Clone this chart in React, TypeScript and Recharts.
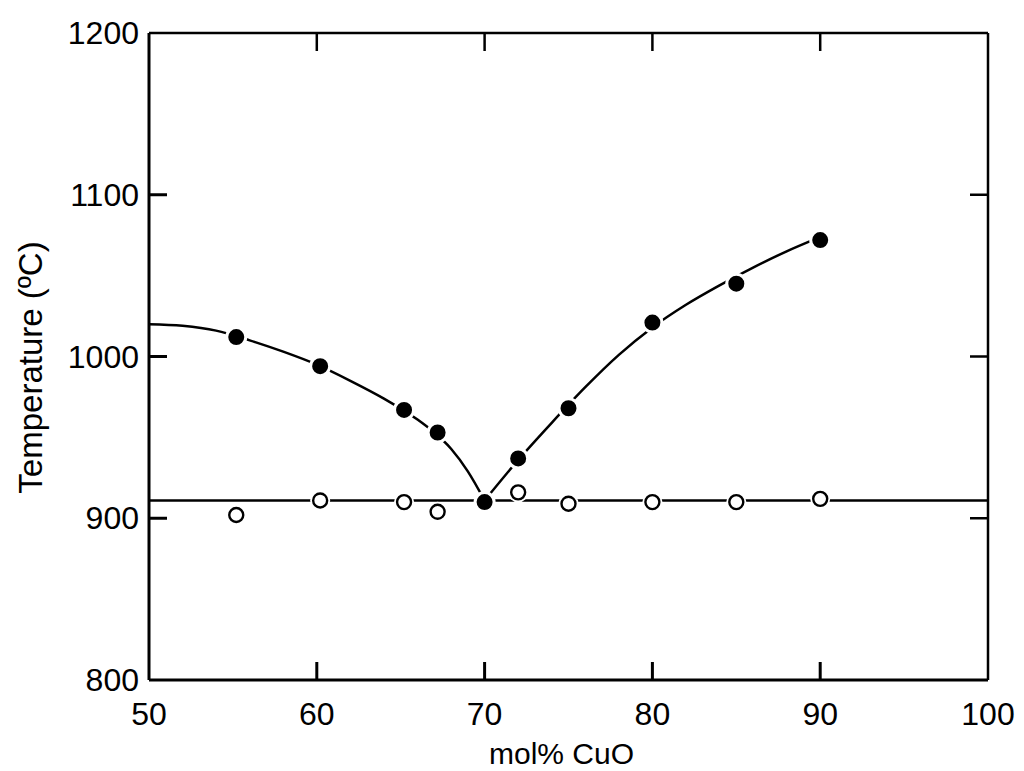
import { ComposedChart, Line, Scatter, XAxis, YAxis } from 'recharts';

const FONT = '"Liberation Sans", Arial, Helvetica, sans-serif';

const xTicks = [50, 60, 70, 80, 90, 100];
const yTicks = [800, 900, 1000, 1100, 1200];

// liquidus measurements (filled circles)
const liquidusPoints = [
  { x: 55.2, y: 1012 },
  { x: 60.2, y: 994 },
  { x: 65.2, y: 967 },
  { x: 67.2, y: 953 },
  { x: 70.0, y: 910 },
  { x: 72.0, y: 937 },
  { x: 75.0, y: 968 },
  { x: 80.0, y: 1021 },
  { x: 85.0, y: 1045 },
  { x: 90.0, y: 1072 },
];

// eutectic measurements (open circles)
const eutecticPoints = [
  { x: 55.2, y: 902 },
  { x: 60.2, y: 911 },
  { x: 65.2, y: 910 },
  { x: 67.2, y: 904 },
  { x: 70.0, y: 910 },
  { x: 72.0, y: 916 },
  { x: 75.0, y: 909 },
  { x: 80.0, y: 910 },
  { x: 85.0, y: 910 },
  { x: 90.0, y: 912 },
];

// hand-drawn curves
const leftCurve = [
  { x: 50, y: 1020 },
  { x: 52, y: 1019 },
  { x: 54, y: 1016 },
  { x: 56, y: 1010 },
  { x: 58, y: 1003 },
  { x: 60, y: 995 },
  { x: 62, y: 985 },
  { x: 64, y: 974 },
  { x: 66, y: 961 },
  { x: 67, y: 953 },
  { x: 68, y: 943 },
  { x: 69, y: 929 },
  { x: 70, y: 911 },
];

const rightCurve = [
  { x: 70, y: 911 },
  { x: 72, y: 936 },
  { x: 74, y: 959 },
  { x: 76, y: 981 },
  { x: 78, y: 1001 },
  { x: 80, y: 1018 },
  { x: 82, y: 1032 },
  { x: 84, y: 1044 },
  { x: 86, y: 1055 },
  { x: 88, y: 1065 },
  { x: 89.8, y: 1073 },
];

const eutecticLine = [
  { x: 50, y: 911 },
  { x: 100, y: 911 },
];

const W = 1008;
const H = 763;
const M_TOP = 25;
const M_RIGHT = 28;
const PLOT_TOP = M_TOP;
const PLOT_RIGHT = W - M_RIGHT;
const TICK_LEN = 18;

// bottom ticks also draw the mirrored inward tick on the top frame
function BottomTick({ x, y, payload }: any) {
  const inner = payload.value !== 50 && payload.value !== 100;
  return (
    <g>
      {inner && <line x1={x} x2={x} y1={y} y2={y - TICK_LEN} stroke="#000" strokeWidth={3} />}
      {inner && (
        <line x1={x} x2={x} y1={PLOT_TOP} y2={PLOT_TOP + TICK_LEN} stroke="#000" strokeWidth={2.5} />
      )}
      <text x={x} y={y + 45} textAnchor="middle" fontSize={32} fontFamily={FONT} fill="#000">
        {payload.value}
      </text>
    </g>
  );
}

// left ticks also draw the mirrored inward tick on the right frame
function LeftTick({ x, y, payload }: any) {
  const inner = payload.value !== 800 && payload.value !== 1200;
  return (
    <g>
      {inner && <line x1={x} x2={x + TICK_LEN} y1={y} y2={y} stroke="#000" strokeWidth={3} />}
      {inner && (
        <line x1={PLOT_RIGHT} x2={PLOT_RIGHT - TICK_LEN} y1={y} y2={y} stroke="#000" strokeWidth={2.5} />
      )}
      <text x={x - 10} y={y + 11} textAnchor="end" fontSize={32} fontFamily={FONT} fill="#000">
        {payload.value}
      </text>
    </g>
  );
}

function FilledDot({ cx, cy }: any) {
  return <circle cx={cx} cy={cy} r={9.5} fill="#000" stroke="#fff" strokeWidth={3} />;
}

function OpenDot({ cx, cy }: any) {
  return (
    <g>
      <circle cx={cx} cy={cy} r={10} fill="#fff" />
      <circle cx={cx} cy={cy} r={7} fill="#fff" stroke="#000" strokeWidth={2.4} />
    </g>
  );
}

function YLabel({ viewBox }: any) {
  const cx = 22;
  const cy = viewBox.y + viewBox.height / 2 + 11;
  return (
    <text
      x={cx}
      y={cy}
      transform={`rotate(-90, ${cx}, ${cy})`}
      textAnchor="middle"
      dominantBaseline="central"
      fontSize={33}
      fontFamily={FONT}
      fill="#000"
    >
      Temperature (ºC)
    </text>
  );
}

function XLabel({ viewBox }: any) {
  return (
    <text
      x={viewBox.x + viewBox.width / 2 - 7}
      y={756}
      textAnchor="middle"
      fontSize={30}
      fontFamily={FONT}
      fill="#000"
    >
      mol% CuO
    </text>
  );
}

export default function App() {
  return (
    <div style={{ width: W, height: H, background: '#fff' }}>
      <ComposedChart width={W} height={H} margin={{ top: M_TOP - 1, right: M_RIGHT - 1, bottom: 0, left: 0 }}>
        <XAxis
          xAxisId="bottom"
          dataKey="x"
          type="number"
          domain={[50, 100]}
          ticks={xTicks}
          height={91}
          tickSize={0}
          tickMargin={0}
          tickLine={false}
          tick={<BottomTick />}
          axisLine={{ stroke: '#000', strokeWidth: 3 }}
          interval={0}
          label={<XLabel />}
        />
        <XAxis
          xAxisId="top"
          orientation="top"
          dataKey="x"
          type="number"
          domain={[50, 100]}
          height={1}
          tick={false}
          tickLine={false}
          axisLine={{ stroke: '#000', strokeWidth: 2.5 }}
        />
        <YAxis
          yAxisId="left"
          type="number"
          domain={[800, 1200]}
          ticks={yTicks}
          width={141}
          tickSize={0}
          tickMargin={0}
          tickLine={false}
          tick={<LeftTick />}
          axisLine={{ stroke: '#000', strokeWidth: 3 }}
          interval={0}
          label={<YLabel />}
        />
        <YAxis
          yAxisId="right"
          orientation="right"
          type="number"
          domain={[800, 1200]}
          width={1}
          tick={false}
          tickLine={false}
          axisLine={{ stroke: '#000', strokeWidth: 2.5 }}
        />
        <Line
          xAxisId="bottom"
          yAxisId="left"
          data={eutecticLine}
          dataKey="y"
          type="linear"
          stroke="#000"
          strokeWidth={2.5}
          dot={false}
          activeDot={false}
          isAnimationActive={false}
        />
        <Line
          xAxisId="bottom"
          yAxisId="left"
          data={leftCurve}
          dataKey="y"
          type="monotone"
          stroke="#000"
          strokeWidth={2.5}
          dot={false}
          activeDot={false}
          isAnimationActive={false}
        />
        <Line
          xAxisId="bottom"
          yAxisId="left"
          data={rightCurve}
          dataKey="y"
          type="monotone"
          stroke="#000"
          strokeWidth={2.5}
          dot={false}
          activeDot={false}
          isAnimationActive={false}
        />
        <Scatter
          xAxisId="bottom"
          yAxisId="left"
          data={eutecticPoints}
          dataKey="y"
          shape={<OpenDot />}
          isAnimationActive={false}
        />
        <Scatter
          xAxisId="bottom"
          yAxisId="left"
          data={liquidusPoints}
          dataKey="y"
          shape={<FilledDot />}
          isAnimationActive={false}
        />
      </ComposedChart>
    </div>
  );
}
